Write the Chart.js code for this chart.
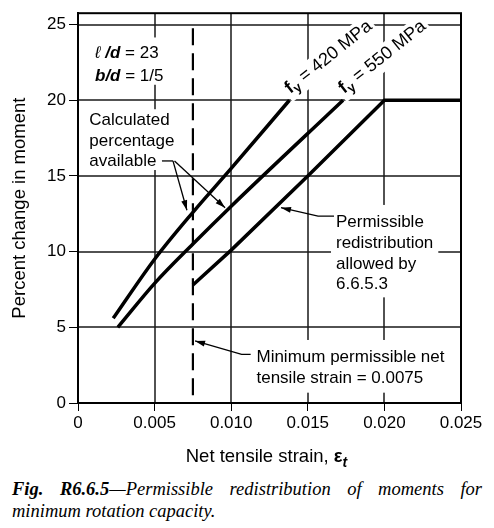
<!DOCTYPE html>
<html>
<head>
<meta charset="utf-8">
<script src="https://cdn.jsdelivr.net/npm/chart.js@4.4.1/dist/chart.umd.min.js"></script>
<style>
html, body { margin: 0; padding: 0; background: #fff; }
#wrap { position: relative; width: 494px; height: 470px; }
#caption { width: 470px; margin: 9px 0 0 12px; color: #000;
  font: italic 18.5px/21.7px "Liberation Serif", "Times New Roman", serif; text-align: justify; }
</style>
</head>
<body>
<div id="wrap"><canvas id="myChart"></canvas></div>
<div id="caption"><b>Fig. R6.6.5</b>—Permissible redistribution of moments for minimum rotation capacity.</div>
<script>
// tick values and labels
const xTicks = [0, 0.005, 0.010, 0.015, 0.020, 0.025];
const xTickLabels = ['0', '0.005', '0.010', '0.015', '0.020', '0.025'];
const yTicks = [0, 5, 10, 15, 20, 25];
const yTickLabels = ['0', '5', '10', '15', '20', '25'];

// calculated percentage available, fy = 420 MPa
const strain420 = [0.0023, 0.005, 0.0075, 0.010, 0.0138];
const moment420 = [5.6, 9.5, 12.6, 15.5, 20];
// calculated percentage available, fy = 550 MPa
const strain550 = [0.0026, 0.005, 0.0075, 0.010, 0.0173];
const moment550 = [5.0, 7.9, 10.5, 13.0, 20];
// permissible redistribution allowed by 6.6.5.3
const strainPerm = [0.0075, 0.010, 0.015, 0.020, 0.025];
const momentPerm = [7.8, 10.1, 15, 20, 20];
// minimum permissible net tensile strain
const minStrain = 0.0075;
const minStrainSpan = [24.75, 0.2];

const sans = '"Liberation Sans", Arial, sans-serif';
const F17 = '17px ' + sans;

function pts(xs, ys) { return xs.map((x, i) => ({x: x, y: ys[i]})); }

function richWidth(ctx, segs) {
  let w = 0;
  segs.forEach(s => { ctx.font = s.f; w += ctx.measureText(s.t).width; });
  return w;
}
function drawRich(ctx, x, y, segs) {
  let cx = x;
  segs.forEach(s => {
    ctx.font = s.f;
    ctx.fillText(s.t, cx, y + (s.dy || 0));
    cx += ctx.measureText(s.t).width;
  });
}
function plain(t) { return [{t: t, f: F17}]; }

// text notes (x, first baseline in data units)
const notes = [
  {x: 0.00111, y: 22.76, lh: 22.3, pad: [21, 4], lines: [
    [{t: 'ℓ', f: 'italic 17px ' + sans}, {t: ' /d', f: 'bold italic 17px ' + sans}, {t: ' = 23', f: F17}],
    [{t: 'b/d', f: 'bold italic 17px ' + sans}, {t: ' = 1/5', f: F17}]
  ]},
  {x: 0.00074, y: 18.35, lh: 20.4, pad: [16, 4], lines: [plain('Calculated'), plain('percentage'), plain('available')]},
  {x: 0.01684, y: 11.63, lh: 20.8, pad: [22, 8], lines: [plain('Permissible'), plain('redistribution'), plain('allowed by'), plain('6.6.5.3')]},
  {x: 0.01165, y: 2.73, lh: 21, pad: [21.7, 10], lines: [plain('Minimum permissible net'), plain('tensile strain = 0.0075')]}
];
const fyLabels = [
  {x: 0.01385, y: 20.42, val: '420'},
  {x: 0.01737, y: 20.42, val: '550'}
];
const leaders = [
  {p: [[0.00548, 15.99], [0.0062, 15.99]], head: false},
  {p: [[0.0062, 15.99], [0.00711, 12.73]], head: true},
  {p: [[0.0063, 15.99], [0.0096, 12.9]], head: true},
  {p: [[0.01671, 12.35], [0.01567, 12.35], [0.01325, 12.9]], head: true},
  {p: [[0.01127, 3.21], [0.01068, 3.21], [0.00764, 4.1]], head: true}
];

const notesPlugin = {
  id: 'notes',
  beforeDatasetsDraw(chart) {
    const ctx = chart.ctx, sx = chart.scales.x, sy = chart.scales.y, a = chart.chartArea;
    ctx.save();
    // grid
    ctx.strokeStyle = '#1a1a1a';
    ctx.lineWidth = 1.5;
    ctx.beginPath();
    xTicks.forEach(v => {
      const x = Math.round(sx.getPixelForValue(v));
      ctx.moveTo(x, a.top); ctx.lineTo(x, a.bottom);
    });
    yTicks.forEach(v => {
      const y = Math.round(sy.getPixelForValue(v));
      ctx.moveTo(a.left, y); ctx.lineTo(a.right, y);
    });
    ctx.stroke();

    ctx.textAlign = 'left';
    ctx.textBaseline = 'alphabetic';
    notes.forEach(n => {
      const x0 = sx.getPixelForValue(n.x), y0 = sy.getPixelForValue(n.y);
      const w = Math.max(...n.lines.map(l => richWidth(ctx, l)));
      ctx.fillStyle = '#fff';
      ctx.fillRect(x0 - 5, y0 - n.pad[0], w + 10, (n.lines.length - 1) * n.lh + n.pad[0] + n.pad[1]);
      ctx.fillStyle = '#000';
      n.lines.forEach((l, i) => drawRich(ctx, x0, y0 + i * n.lh, l));
    });
    fyLabels.forEach(l => {
      const segs = [
        {t: 'f', f: 'bold 18px ' + sans},
        {t: 'y', f: 'bold 13px ' + sans, dy: 4},
        {t: ' = ' + l.val + ' MPa', f: '18px ' + sans}
      ];
      ctx.save();
      ctx.translate(sx.getPixelForValue(l.x), sy.getPixelForValue(l.y));
      ctx.rotate(-38.5 * Math.PI / 180);
      const w = richWidth(ctx, segs);
      ctx.fillStyle = '#fff';
      ctx.fillRect(-3, -16, w + 6, 24);
      ctx.fillStyle = '#000';
      drawRich(ctx, 0, 0, segs);
      ctx.restore();
    });
    ctx.restore();
  },
  afterDatasetsDraw(chart) {
    const ctx = chart.ctx, sx = chart.scales.x, sy = chart.scales.y;
    ctx.save();
    ctx.strokeStyle = '#000';
    ctx.fillStyle = '#000';
    ctx.lineWidth = 1.3;
    leaders.forEach(a => {
      const p = a.p.map(q => [sx.getPixelForValue(q[0]), sy.getPixelForValue(q[1])]);
      ctx.beginPath();
      ctx.moveTo(p[0][0], p[0][1]);
      for (let i = 1; i < p.length; i++) ctx.lineTo(p[i][0], p[i][1]);
      ctx.stroke();
      if (a.head) {
        const e = p[p.length - 1], s = p[p.length - 2];
        const ang = Math.atan2(e[1] - s[1], e[0] - s[0]);
        ctx.beginPath();
        ctx.moveTo(e[0], e[1]);
        ctx.lineTo(e[0] - 10 * Math.cos(ang) + 3 * Math.sin(ang), e[1] - 10 * Math.sin(ang) - 3 * Math.cos(ang));
        ctx.lineTo(e[0] - 10 * Math.cos(ang) - 3 * Math.sin(ang), e[1] - 10 * Math.sin(ang) + 3 * Math.cos(ang));
        ctx.closePath();
        ctx.fill();
      }
    });
    ctx.restore();
  },
  afterDraw(chart) {
    const ctx = chart.ctx, a = chart.chartArea;
    ctx.save();
    ctx.strokeStyle = '#000';
    ctx.lineWidth = 2;
    ctx.strokeRect(a.left, a.top, a.right - a.left, a.bottom - a.top);
    // x axis title with subscript
    const segs = [
      {t: 'Net tensile strain, ', f: '18.5px ' + sans},
      {t: 'ε', f: 'bold 18.5px ' + sans},
      {t: 't', f: 'bold italic 14px ' + sans, dy: 5}
    ];
    ctx.fillStyle = '#000';
    ctx.textBaseline = 'alphabetic';
    const w = richWidth(ctx, segs);
    drawRich(ctx, (a.left + a.right) / 2 - 3 - w / 2, 461.5, segs);
    ctx.restore();
  }
};

const lineStyle = {showLine: true, borderColor: '#000', borderWidth: 3.5, pointRadius: 0, fill: false, tension: 0};

const myChart = new Chart(document.getElementById('myChart').getContext('2d'), {
  type: 'scatter',
  data: {
    datasets: [
      Object.assign({label: 'fy = 420 MPa', data: pts(strain420, moment420)}, lineStyle, {cubicInterpolationMode: 'monotone'}),
      Object.assign({label: 'fy = 550 MPa', data: pts(strain550, moment550)}, lineStyle, {cubicInterpolationMode: 'monotone'}),
      Object.assign({label: 'Permissible redistribution', data: pts(strainPerm, momentPerm)}, lineStyle),
      Object.assign({label: 'Minimum strain', data: pts([minStrain, minStrain], minStrainSpan)}, lineStyle,
        {borderWidth: 2.2, borderDash: [17, 8]})
    ]
  },
  options: {
    responsive: true,
    maintainAspectRatio: false,
    animation: false,
    layout: {padding: {left: 0, right: 33, top: 11, bottom: 0}},
    plugins: {legend: {display: false}, tooltip: {enabled: false}},
    scales: {
      x: {
        type: 'linear', min: 0, max: 0.025,
        afterBuildTicks: s => { s.ticks = xTicks.map(v => ({value: v})); },
        afterFit: s => { s.height = 67; },
        grid: {drawOnChartArea: false, tickLength: 8, tickColor: '#000'},
        border: {display: true, color: '#000', width: 2},
        ticks: {color: '#000', font: {family: sans, size: 17}, padding: 2, maxRotation: 0,
          callback: (v, i) => xTickLabels[i]}
      },
      y: {
        type: 'linear', min: 0, max: 25.75,
        afterBuildTicks: s => { s.ticks = yTicks.map(v => ({value: v})); },
        afterFit: s => { s.width = 78; },
        grid: {drawOnChartArea: false, tickLength: 9, tickColor: '#000'},
        border: {display: true, color: '#000', width: 2},
        ticks: {color: '#000', font: {family: sans, size: 17}, padding: 3,
          callback: (v, i) => yTickLabels[i]},
        title: {display: true, text: 'Percent change in moment', color: '#000',
          font: {family: sans, size: 18.5}, padding: {top: 9, bottom: 0}}
      }
    }
  },
  plugins: [notesPlugin]
});
</script>
</body>
</html>
